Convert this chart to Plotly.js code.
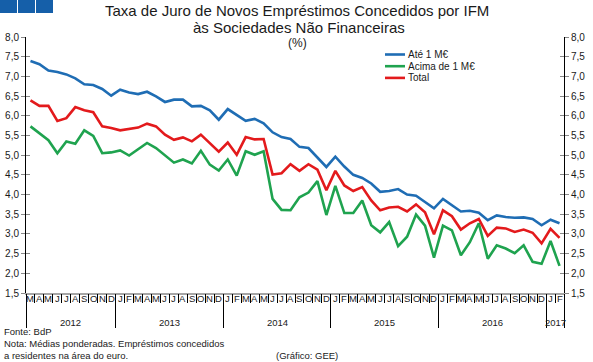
<!DOCTYPE html>
<html>
<head>
<meta charset="utf-8">
<script src="https://cdn.plot.ly/plotly-3.0.1.min.js"></script>
<style>
html,body{margin:0;padding:0;background:#fff;}
#chart{width:593px;height:362px;}
</style>
</head>
<body>
<div id="chart"></div>
<script>
// ---- DATA ----
const categories = [
  "2012-03","2012-04","2012-05","2012-06","2012-07","2012-08","2012-09","2012-10","2012-11","2012-12",
  "2013-01","2013-02","2013-03","2013-04","2013-05","2013-06","2013-07","2013-08","2013-09","2013-10","2013-11","2013-12",
  "2014-01","2014-02","2014-03","2014-04","2014-05","2014-06","2014-07","2014-08","2014-09","2014-10","2014-11","2014-12",
  "2015-01","2015-02","2015-03","2015-04","2015-05","2015-06","2015-07","2015-08","2015-09","2015-10","2015-11","2015-12",
  "2016-01","2016-02","2016-03","2016-04","2016-05","2016-06","2016-07","2016-08","2016-09","2016-10","2016-11","2016-12",
  "2017-01","2017-02"
];
const monthInitials = ["J","F","M","A","M","J","J","A","S","O","N","D"];
const seriesNames = ["Até 1 M€", "Acima de 1 M€", "Total"];
const ateUmMilhao = [
  7.39,7.31,7.15,7.11,7.05,6.95,6.80,6.78,6.68,6.51,
  6.66,6.59,6.55,6.61,6.49,6.35,6.41,6.41,6.24,6.25,6.14,5.90,
  6.17,6.03,5.87,5.92,5.81,5.58,5.46,5.41,5.21,5.18,4.95,4.70,
  4.96,4.71,4.50,4.42,4.28,4.07,4.09,4.14,4.00,3.97,3.81,3.65,
  3.89,3.72,3.57,3.59,3.54,3.35,3.47,3.43,3.41,3.42,3.38,3.22,
  3.36,3.27
];
const acimaUmMilhao = [
  5.73,5.56,5.38,5.05,5.35,5.29,5.63,5.49,5.05,5.07,
  5.12,4.99,5.14,5.31,5.18,4.99,4.81,4.89,4.79,5.11,4.76,4.61,
  4.89,4.48,5.10,5.01,5.10,3.89,3.61,3.60,3.93,4.05,4.34,3.48,
  4.22,3.53,3.53,3.85,3.22,3.04,3.30,2.69,2.93,3.49,3.21,2.40,
  3.21,3.09,2.46,2.79,3.27,2.37,2.71,2.63,2.51,2.71,2.29,2.24,
  2.82,2.19
];
const totalSerie = [
  6.39,6.25,6.25,5.87,5.94,6.22,6.14,6.09,5.73,5.69,
  5.63,5.67,5.70,5.80,5.73,5.52,5.39,5.45,5.35,5.52,5.31,5.09,
  5.32,5.01,5.46,5.40,5.41,4.51,4.54,4.77,4.60,4.77,4.63,4.11,
  4.60,4.23,4.09,4.19,3.85,3.60,3.67,3.69,3.57,3.75,3.55,2.99,
  3.60,3.45,3.11,3.27,3.38,2.95,3.16,3.14,3.05,3.11,3.03,2.76,
  3.13,2.90
];
const seriesColors = ["#1f6db4", "#1fa34f", "#e31a1c"];

// ---- DERIVED ----
const idx = categories.map((c, i) => i);
const tickText = categories.map(c => monthInitials[parseInt(c.slice(5), 10) - 1]);
const years = [...new Set(categories.map(c => c.slice(0, 4)))];
const yearCenters = years.map(y => {
  const ii = idx.filter(i => categories[i].startsWith(y));
  return (ii[0] + ii[ii.length - 1]) / 2;
});
const monthBounds = idx.map(i => i - 0.5).concat([idx.length - 0.5]);
const yearBounds = [-0.5].concat(idx.filter(i => categories[i].endsWith("-01")).map(i => i - 0.5)).concat([idx.length - 0.5]);

// pixel helpers for decorations (plot area: x 26..564, y 37..293)
const W = 593, H = 362, L = 26, R = 29, T = 37, B = 69;
const pw = W - L - R, ph = H - T - B;
const px = x => (x - L) / pw;
const py = y => (H - B - y) / ph;

const FONT = "Liberation Sans, Arial, Helvetica, sans-serif";
const TXT = "#1a1a1a";

const seriesData = [ateUmMilhao, acimaUmMilhao, totalSerie];
const traces = seriesData.map((d, k) => ({
  x: idx, y: d, type: "scatter", mode: "lines", name: seriesNames[k],
  line: {color: seriesColors[k], width: 2.6}, showlegend: false, hoverinfo: "skip"
}));
// transparent helper traces so the extra (tick-only / right) axes are drawn
[["x2","y"],["x3","y"],["x","y2"],["x","y3"],["x","y4"]].forEach(a => traces.push({
  x: idx, y: totalSerie, xaxis: a[0], yaxis: a[1], type: "scatter", mode: "lines",
  opacity: 0, line: {width: 0, color: "rgba(0,0,0,0)"}, showlegend: false, hoverinfo: "skip"
}));

const commonY = {
  range: [1.5, 8.0], tick0: 1.5, dtick: 0.5, tickformat: ".1f",
  showgrid: false, zeroline: false, fixedrange: true
};

const shapes = [];
const annotations = [];
// blue logo squares
[[0,17],[18,35],[36,53]].forEach(s => shapes.push({
  type: "rect", xref: "paper", yref: "paper",
  x0: px(s[0]), x1: px(s[1]), y0: py(0), y1: py(13),
  fillcolor: "#155fa9", line: {width: 0}
}));
// manual legend
const legY = [54.5, 66.2, 77.9];
seriesNames.forEach((n, k) => {
  shapes.push({type: "line", xref: "paper", yref: "paper",
    x0: px(385), x1: px(405), y0: py(legY[k]), y1: py(legY[k]),
    line: {color: seriesColors[k], width: 2.6}});
  annotations.push({xref: "paper", yref: "paper", x: px(406), y: py(legY[k]),
    xanchor: "left", yanchor: "middle", showarrow: false, text: n,
    font: {size: 10, color: TXT, family: FONT}});
});
// titles
annotations.push({xref: "paper", yref: "paper", x: px(297), y: py(10), xanchor: "center", yanchor: "middle",
  showarrow: false, text: "Taxa de Juro de Novos Empréstimos Concedidos por IFM", font: {size: 15, color: TXT, family: FONT}});
annotations.push({xref: "paper", yref: "paper", x: px(299), y: py(27), xanchor: "center", yanchor: "middle",
  showarrow: false, text: "às Sociedades Não Financeiras", font: {size: 15, color: TXT, family: FONT}});
annotations.push({xref: "paper", yref: "paper", x: px(297), y: py(43), xanchor: "center", yanchor: "middle",
  showarrow: false, text: "(%)", font: {size: 12, color: TXT, family: FONT}});
// month letters (between boundary ticks)
idx.forEach(i => annotations.push({xref: "x", yref: "paper", x: i, y: py(298),
  xanchor: "center", yanchor: "middle", showarrow: false, text: tickText[i],
  font: {size: 9.5, color: TXT, family: FONT}}));
// year labels
years.forEach((y, k) => annotations.push({xref: "x", yref: "paper", x: yearCenters[k], y: py(322),
  xanchor: "center", yanchor: "middle", showarrow: false, text: y, font: {size: 9.5, color: TXT, family: FONT}}));
// footer
const footer = [["Fonte: BdP", 331], ["Nota: Médias ponderadas. Empréstimos concedidos", 343], ["a residentes na área do euro.", 355]];
footer.forEach(f => annotations.push({xref: "paper", yref: "paper", x: px(2), y: py(f[1]), xanchor: "left", yanchor: "middle",
  showarrow: false, text: f[0], font: {size: 9.5, color: TXT, family: FONT}}));
annotations.push({xref: "paper", yref: "paper", x: px(274), y: py(355), xanchor: "left", yanchor: "middle",
  showarrow: false, text: "(Gráfico: GEE)", font: {size: 9.5, color: TXT, family: FONT}});

const layout = {
  width: W, height: H, margin: {l: L, r: R, t: T, b: B, pad: 0},
  paper_bgcolor: "#fff", plot_bgcolor: "#fff",
  separators: ",.", showlegend: false,
  font: {family: FONT, color: TXT, size: 10},
  xaxis: {range: [-0.5, idx.length - 0.5], tickmode: "array", tickvals: idx, ticktext: tickText,
    ticks: "", showticklabels: false, showline: true, linecolor: "#a6a6a6", linewidth: 2, showgrid: false, zeroline: false,
    fixedrange: true},
  xaxis2: {overlaying: "x", anchor: "y", side: "bottom", range: [-0.5, idx.length - 0.5], tickmode: "array",
    tickvals: monthBounds, ticks: "outside", ticklen: 9, tickwidth: 1, tickcolor: "#000",
    showticklabels: false, showline: false, showgrid: false, zeroline: false, fixedrange: true},
  xaxis3: {overlaying: "x", anchor: "y", side: "bottom", range: [-0.5, idx.length - 0.5], tickmode: "array",
    tickvals: yearBounds, ticks: "outside", ticklen: 34, tickwidth: 1, tickcolor: "#000",
    showticklabels: false, showline: false, showgrid: false, zeroline: false, fixedrange: true},
  yaxis: Object.assign({}, commonY, {side: "left", ticks: "outside", ticklen: 4, tickcolor: "#888", tickwidth: 1,
    showline: true, linecolor: "#000", linewidth: 1, tickfont: {size: 10, color: TXT, family: FONT}}),
  yaxis2: Object.assign({}, commonY, {overlaying: "y", anchor: "x", side: "right", ticks: "outside", ticklen: 4,
    tickcolor: "#888", tickwidth: 1, showline: true, linecolor: "#000", linewidth: 1,
    tickfont: {size: 10, color: TXT, family: FONT}}),
  yaxis3: Object.assign({}, commonY, {overlaying: "y", anchor: "x", side: "left", ticks: "inside", ticklen: 4,
    tickcolor: "#888", tickwidth: 1, showticklabels: false, showline: false}),
  yaxis4: Object.assign({}, commonY, {overlaying: "y", anchor: "x", side: "right", ticks: "inside", ticklen: 4,
    tickcolor: "#888", tickwidth: 1, showticklabels: false, showline: false}),
  shapes: shapes,
  annotations: annotations
};

Plotly.newPlot("chart", traces, layout, {displayModeBar: false, staticPlot: true});
</script>
</body>
</html>
